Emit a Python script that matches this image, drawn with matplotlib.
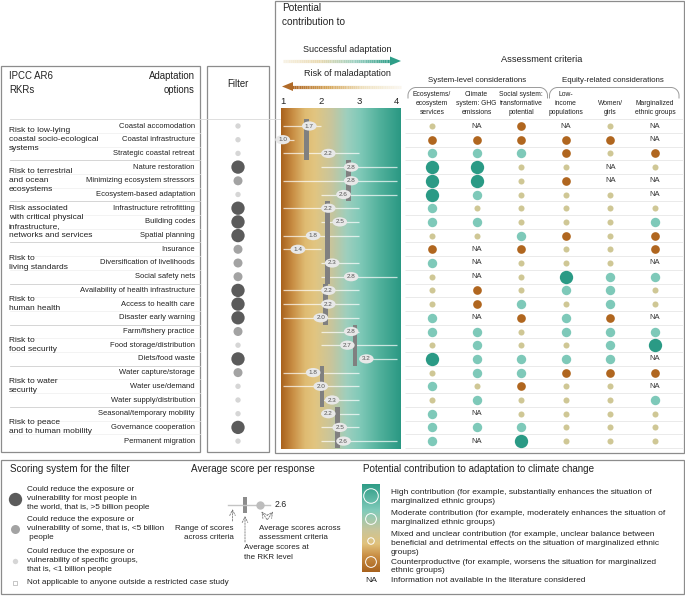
import numpy as np
import matplotlib
matplotlib.use("Agg")
import matplotlib.pyplot as plt
from matplotlib.colors import LinearSegmentedColormap
from matplotlib.patches import Rectangle, Polygon
from matplotlib.collections import LineCollection

plt.rcParams['font.family'] = ['Liberation Sans', 'DejaVu Sans']

# ---- data ----
rkrs = ["Risk to low-lying\ncoastal socio-ecological\nsystems",
        "Risk to terrestrial\nand ocean\necosystems",
        "Risk associated\nwith critical physical\ninfrastructure,\nnetworks and services",
        "Risk to\nliving standards",
        "Risk to\nhuman health",
        "Risk to\nfood security",
        "Risk to water\nsecurity",
        "Risk to peace\nand to human mobility"]

options = ["Coastal accomodation", "Coastal infrastructure", "Strategic coastal retreat",
           "Nature restoration", "Minimizing ecosystem stressors", "Ecosystem-based adaptation",
           "Infrastructure retrofitting", "Building codes", "Spatial planning",
           "Insurance", "Diversification of livelihoods", "Social safety nets",
           "Availability of health infrastructure", "Access to health care", "Disaster early warning",
           "Farm/fishery practice", "Food storage/distribution", "Diets/food waste",
           "Water capture/storage", "Water use/demand", "Water supply/distribution",
           "Seasonal/temporary mobility", "Governance cooperation", "Permanent migration"]

# 3 = >5 billion, 2 = <5 billion, 1 = <1 billion people
filter_level = [1, 1, 1, 3, 2, 1, 3, 3, 3, 2, 2, 2,
                3, 3, 3, 2, 1, 3, 2, 1, 1, 1, 3, 1]

avg_score = [1.7, 1.0, 2.2, 2.8, 2.8, 2.6, 2.2, 2.5, 1.8, 1.4, 2.3, 2.8,
             2.2, 2.2, 2.0, 2.8, 2.7, 3.2, 1.8, 2.0, 2.3, 2.2, 2.5, 2.6]
score_min = [1, 1, 1, 2, 1, 2, 1, 2, 1, 1, 2, 2,
             1, 1, 1, 2, 2, 3, 1, 1, 2, 2, 2, 2]
score_max = [2, 1.3, 3, 4, 4, 4, 3, 3, 3, 2, 3, 4,
             3, 3, 3, 3, 4, 4, 3, 3, 3, 3, 3, 4]

criteria = ["Ecosystems/\necosystem\nservices", "Climate\nsystem: GHG\nemissions",
            "Social system:\ntransformative\npotential", "Low-\nincome\npopulations",
            "Women/\ngirls", "Marginalized\nethnic groups"]

# 4 high, 3 moderate, 2 mixed, 1 counterproductive, 0 NA
assessment = [
    [2, 0, 1, 0, 2, 0],
    [1, 1, 1, 1, 1, 0],
    [3, 3, 3, 1, 2, 1],
    [4, 4, 2, 2, 0, 2],
    [4, 4, 2, 1, 0, 0],
    [4, 3, 2, 2, 2, 0],
    [3, 2, 2, 2, 2, 2],
    [3, 3, 2, 2, 2, 3],
    [2, 2, 3, 1, 2, 1],
    [1, 0, 1, 2, 2, 1],
    [3, 0, 2, 2, 2, 0],
    [2, 0, 2, 4, 3, 3],
    [2, 1, 2, 3, 3, 2],
    [2, 1, 3, 2, 3, 2],
    [3, 0, 1, 3, 1, 0],
    [3, 3, 2, 3, 3, 3],
    [2, 3, 2, 2, 3, 4],
    [4, 3, 3, 3, 3, 0],
    [2, 3, 3, 1, 1, 1],
    [3, 2, 1, 2, 2, 0],
    [2, 3, 2, 2, 2, 3],
    [3, 0, 2, 2, 2, 2],
    [3, 3, 3, 2, 2, 2],
    [3, 0, 4, 2, 2, 2],
]

# ---- layout helpers (pixel space) ----
W, H = 685, 596
ROW0, PITCH = 126, 13.7
TOP, BOT = 107.5, 449
n = len(options)
rows = np.arange(n)


def row_y(i):
    return ROW0 + i * PITCH


def px_axes(x0, y0, x1, y1):
    return fig.add_axes([x0 / W, 1 - y1 / H, (x1 - x0) / W, (y1 - y0) / H])


fig = plt.figure(figsize=(6.85, 5.96), dpi=100)
bg = fig.add_axes([0, 0, 1, 1])
bg.set_xlim(0, W)
bg.set_ylim(H, 0)
bg.axis('off')

edge = '#8c8c8c'
for (x0, y0, x1, y1) in [(1, 66, 200, 452), (207, 66, 269, 452), (275, 1, 684, 453), (1, 460, 684, 594)]:
    bg.add_patch(Rectangle((x0, y0), x1 - x0, y1 - y0, fill=False, ec=edge, lw=0.9))

txt = '#222222'
bg.text(9, 83, "IPCC AR6\nRKRs", fontsize=6.9, va='center', ha='left', color=txt, linespacing=1.5)
bg.text(195, 83, "Adaptation\noptions", fontsize=6.9, va='center', ha='right', color=txt, linespacing=1.5)
bg.text(238, 84, "Filter", fontsize=6.9, va='center', ha='center', color=txt)
bg.text(282, 15, "Potential\ncontribution to", fontsize=7.2, va='center', ha='left', color=txt, linespacing=1.4)
bg.text(347, 49, "Successful adaptation", fontsize=6.5, va='center', ha='center', color=txt)
bg.text(347, 73, "Risk of maladaptation", fontsize=6.5, va='center', ha='center', color=txt)

# gradient arrows
good = LinearSegmentedColormap.from_list('good', ['#f7f1e3', '#e9d9b0', '#9fd1c3', '#2e9e88'])
bad = LinearSegmentedColormap.from_list('bad', ['#b06a28', '#d6a85e', '#efe2c2', '#faf6ee'])
xs = np.linspace(283, 391, 60)
segs = [[(xs[i], 61), (xs[i + 1], 61)] for i in range(len(xs) - 1)]
bg.add_collection(LineCollection(segs, colors=good(np.linspace(0, 1, len(segs))), lw=2.3))
bg.add_patch(Polygon([(390, 56.5), (401, 61), (390, 65.5)], color='#2e9e88', lw=0))
xs = np.linspace(292, 401, 60)
segs = [[(xs[i], 86.5), (xs[i + 1], 86.5)] for i in range(len(xs) - 1)]
bg.add_collection(LineCollection(segs, colors=bad(np.linspace(0, 1, len(segs))), lw=2.3))
bg.add_patch(Polygon([(293, 82), (282, 86.5), (293, 91)], color='#b06a28', lw=0))

# assessment headers
bg.text(542, 59, "Assessment criteria", fontsize=6.7, ha='center', va='center', color=txt)
bg.text(477, 80, "System-level considerations", fontsize=5.7, ha='center', va='center', color=txt)
bg.text(613, 80, "Equity-related considerations", fontsize=5.7, ha='center', va='center', color=txt)


def bracket(x0, x1, ytop, ybot, r):
    t1 = np.linspace(np.pi, 1.5 * np.pi, 20)
    t2 = np.linspace(1.5 * np.pi, 2 * np.pi, 20)
    px = np.concatenate([[x0], x0 + r + r * np.cos(t1), x1 - r + r * np.cos(t2), [x1]])
    py = np.concatenate([[ybot], ytop + r + r * np.sin(t1), ytop + r + r * np.sin(t2), [ybot]])
    bg.plot(px, py, color='#9a9a9a', lw=0.7)


bracket(408, 547.5, 87.5, 98, 8)
bracket(549.5, 679, 87.5, 98, 8)

col_px = 432 + np.arange(6) * 44.6
for cx, lab in zip(col_px, criteria):
    bg.text(cx, 116.5, lab, fontsize=4.9, ha='center', va='bottom', color=txt, linespacing=1.5)

# row separators in left box
for i in range(n + 1):
    yb = ROW0 + (i - 0.5) * PITCH
    if i == 0:
        bg.plot([10, 281], [yb, yb], color='#d9d9d9', lw=0.6)
    elif i % 3 == 0 and i < n:
        bg.plot([10, 200], [yb, yb], color='#cfcfcf', lw=0.6)
    elif i < n:
        bg.plot([10, 200], [yb, yb], color='#efefef', lw=0.5)

for g, lab in enumerate(rkrs):
    bg.text(9, row_y(3 * g + 1), lab, fontsize=6.0, ha='left', va='center', color=txt, linespacing=1.42)
for i, lab in enumerate(options):
    bg.text(195, row_y(i), lab, fontsize=5.5, ha='right', va='center', color=txt)

# ---- filter column ----
axf = px_axes(207, TOP, 269, BOT)
axf.set_xlim(0, 1)
axf.set_ylim((BOT - ROW0) / PITCH, (TOP - ROW0) / PITCH)
axf.axis('off')
f_size = {3: 92, 2: 42, 1: 15}
f_col = {3: '#5b5b5b', 2: '#a3a3a3', 1: '#d6d6d6'}
axf.scatter([0.5] * n, rows, s=[f_size[v] for v in filter_level],
            c=[f_col[v] for v in filter_level], linewidths=0)

# ---- score panel ----
axs = px_axes(281, TOP, 401, BOT)
xl = (0.955, 4.11)
axs.set_xlim(*xl)
yl = ((BOT - ROW0) / PITCH, (TOP - ROW0) / PITCH)
axs.set_ylim(*yl)
score_cmap = LinearSegmentedColormap.from_list('score', [
    (0.0, '#a9621d'), (0.1, '#c98f45'), (0.2, '#dfbb72'), (0.28, '#e2c580'),
    (0.42, '#c8c59c'), (0.55, '#9dcfbe'), (0.66, '#80c9b8'), (0.82, '#52b19c'), (1.0, '#2a9883')])
axs.imshow(np.linspace(0, 1, 256)[None, :], cmap=score_cmap, aspect='auto',
           extent=(xl[0], xl[1], yl[0], yl[1]), zorder=0)
axs.hlines(rows, score_min, score_max, color='white', lw=0.9, alpha=0.7, zorder=1)
grp_mean = [np.mean(avg_score[3 * g:3 * g + 3]) for g in range(len(rkrs))]
axs.bar(grp_mean, 3, width=0.13, bottom=np.arange(len(rkrs)) * 3 - 0.5, color='#808080', zorder=2)
for i, v in enumerate(avg_score):
    axs.text(v, i, f"{v:.1f}", fontsize=4.6, ha='center', va='center', color='#555555', zorder=3,
             bbox=dict(boxstyle='ellipse,pad=0.12', fc='#e8e8e8', ec='none'))
axs.xaxis.tick_top()
axs.set_xticks([1, 2, 3, 4])
axs.tick_params(axis='x', length=0, pad=1, labelsize=6.8, labelcolor=txt)
axs.set_yticks([])
for sp in axs.spines.values():
    sp.set_visible(False)

# ---- assessment matrix ----
axm = px_axes(405, TOP, 683, BOT)
mxl = ((405 - 432) / 44.6, (683 - 432) / 44.6)
axm.set_xlim(*mxl)
axm.set_ylim(*yl)
axm.axis('off')
axm.hlines(np.arange(n + 1) - 0.5, mxl[0], mxl[1], color='#e6e6e6', lw=0.6, zorder=0)
m_size = {4: 92, 3: 46, 2: 19, 1: 39}
m_col = {4: '#2a9a85', 3: '#7ec9b9', 2: '#cfc795', 1: '#b0661f'}
for i, row in enumerate(assessment):
    for j, v in enumerate(row):
        if v == 0:
            axm.text(j, i, "NA", fontsize=5.5, ha='center', va='center', color='#333333')
        else:
            axm.scatter(j, i, s=m_size[v], color=m_col[v], linewidths=0, zorder=2)

# ---- legend: filter ----
bg.text(10, 469, "Scoring system for the filter", fontsize=7.1, ha='left', va='center', color=txt)
leg_filter = ["Could reduce the exposure or\nvulnerability for most people in\nthe world, that is, >5 billion people",
              "Could reduce the exposure or\nvulnerability of some, that is, <5 billion\n people",
              "Could reduce the exposure or\nvulnerability of specific groups,\nthat is, <1 billion people"]
for k, (lv, lab) in enumerate(zip([3, 2, 1], leg_filter)):
    yy = [498.5, 528.7, 560.7][k]
    bg.scatter(15.5, yy, s=f_size[lv], color=f_col[lv], linewidths=0)
    bg.text(27, yy, lab, fontsize=5.9, ha='left', va='center', color=txt, linespacing=1.45)
bg.scatter(15.5, 582.7, s=6, marker='s', facecolor='white', edgecolor='#bdbdbd', linewidths=0.6)
bg.text(27, 582.7, "Not applicable to anyone outside a restricted case study", fontsize=5.9,
        ha='left', va='center', color=txt)

# ---- legend: average score ----
bg.text(191, 469, "Average score per response", fontsize=7.1, ha='left', va='center', color=txt)
bg.plot([228, 270], [505, 505], color='#c4c4c4', lw=1.0)
bg.add_patch(Rectangle((243.3, 497), 3.8, 16, color='#8c8c8c', lw=0))
bg.scatter(260, 505, s=36, color='#bdbdbd', linewidths=0, zorder=3)
bg.text(275, 504.5, "2.6", fontsize=6.3, ha='left', va='center', color=txt)
dash = dict(arrowstyle='->', linestyle=(0, (2, 1.5)), color='#777777', lw=0.6, shrinkA=0, shrinkB=0)
bg.annotate('', xy=(232.5, 509), xytext=(232.5, 521), arrowprops=dash)
bg.annotate('', xy=(245, 516), xytext=(245, 542), arrowprops=dash)
bg.annotate('', xy=(261.5, 511.5), xytext=(267, 519.5), arrowprops=dash)
bg.annotate('', xy=(273, 511.5), xytext=(267.5, 519.5), arrowprops=dash)
bg.text(234, 533, "Range of scores\nacross criteria", fontsize=5.8, ha='right', va='center', color=txt, linespacing=1.45)
bg.text(259, 533, "Average scores across\nassessment criteria", fontsize=5.8, ha='left', va='center', color=txt, linespacing=1.45)
bg.text(244, 552.5, "Average scores at\nthe RKR level", fontsize=5.8, ha='left', va='center', color=txt, linespacing=1.45)

# ---- legend: contribution ----
bg.text(363, 469, "Potential contribution to adaptation to climate change", fontsize=7.1,
        ha='left', va='center', color=txt)
axc = px_axes(362, 484, 380, 572)
axc.set_xlim(362, 380)
axc.set_ylim(572, 484)
axc.axis('off')
leg_cmap = LinearSegmentedColormap.from_list('leg', [
    (0.0, '#2e9c86'), (0.3, '#80cbba'), (0.52, '#c8c59b'), (0.68, '#e1c27c'), (0.82, '#c88d43'), (1.0, '#a8621d')])
axc.imshow(np.linspace(0, 1, 256)[:, None], cmap=leg_cmap, aspect='auto', extent=(362, 380, 572, 484))
axc.scatter([371] * 4, [496, 519, 541, 562], s=[110, 60, 22, 60], facecolor='none',
            edgecolor='white', linewidths=0.7)
bg.text(371, 580, "NA", fontsize=6.1, ha='center', va='center', color=txt)
leg_contrib = ["High contribution (for example, substantially enhances the situation of\nmarginalized ethnic groups)",
               "Moderate contribution (for example, moderately enhances the situation of\nmarginalized ethnic groups)",
               "Mixed and unclear contribution (for example, unclear balance between\nbeneficial and detrimental effects on the situation of marginalized ethnic\ngroups)",
               "Counterproductive (for example, worsens the situation for marginalized\nethnic groups)",
               "Information not available in the literature considered"]
for yy, lab in zip([497.3, 518, 543.5, 566.5, 580], leg_contrib):
    bg.text(391, yy, lab, fontsize=6.0, ha='left', va='center', color=txt, linespacing=1.4)

fig.savefig("out.png", dpi=100)
